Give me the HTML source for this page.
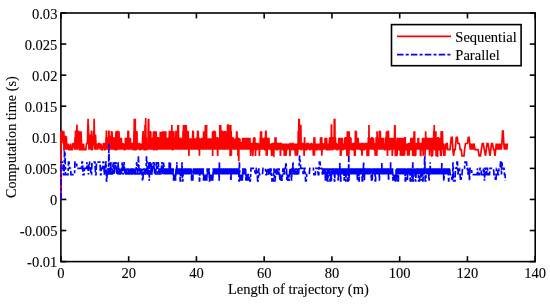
<!DOCTYPE html>
<html><head><meta charset="utf-8"><style>html,body{margin:0;padding:0;background:#fff;width:550px;height:305px;overflow:hidden}svg{display:block}</style></head>
<body><div id="w"><svg width="550" height="305" viewBox="0 0 550 305">
<rect width="550" height="305" fill="#fff"/>
<rect x="60.9" y="13.0" width="474.30" height="248.60" fill="none" stroke="#000" stroke-width="1.6"/><line x1="60.90" y1="261.6" x2="60.90" y2="256.20000000000005" stroke="#000" stroke-width="1.6"/><line x1="60.90" y1="13.0" x2="60.90" y2="18.4" stroke="#000" stroke-width="1.6"/><line x1="128.66" y1="261.6" x2="128.66" y2="256.20000000000005" stroke="#000" stroke-width="1.6"/><line x1="128.66" y1="13.0" x2="128.66" y2="18.4" stroke="#000" stroke-width="1.6"/><line x1="196.41" y1="261.6" x2="196.41" y2="256.20000000000005" stroke="#000" stroke-width="1.6"/><line x1="196.41" y1="13.0" x2="196.41" y2="18.4" stroke="#000" stroke-width="1.6"/><line x1="264.17" y1="261.6" x2="264.17" y2="256.20000000000005" stroke="#000" stroke-width="1.6"/><line x1="264.17" y1="13.0" x2="264.17" y2="18.4" stroke="#000" stroke-width="1.6"/><line x1="331.93" y1="261.6" x2="331.93" y2="256.20000000000005" stroke="#000" stroke-width="1.6"/><line x1="331.93" y1="13.0" x2="331.93" y2="18.4" stroke="#000" stroke-width="1.6"/><line x1="399.69" y1="261.6" x2="399.69" y2="256.20000000000005" stroke="#000" stroke-width="1.6"/><line x1="399.69" y1="13.0" x2="399.69" y2="18.4" stroke="#000" stroke-width="1.6"/><line x1="467.44" y1="261.6" x2="467.44" y2="256.20000000000005" stroke="#000" stroke-width="1.6"/><line x1="467.44" y1="13.0" x2="467.44" y2="18.4" stroke="#000" stroke-width="1.6"/><line x1="535.20" y1="261.6" x2="535.20" y2="256.20000000000005" stroke="#000" stroke-width="1.6"/><line x1="535.20" y1="13.0" x2="535.20" y2="18.4" stroke="#000" stroke-width="1.6"/><line x1="60.9" y1="13.00" x2="66.3" y2="13.00" stroke="#000" stroke-width="1.6"/><line x1="535.2" y1="13.00" x2="529.8000000000001" y2="13.00" stroke="#000" stroke-width="1.6"/><line x1="60.9" y1="44.07" x2="66.3" y2="44.07" stroke="#000" stroke-width="1.6"/><line x1="535.2" y1="44.07" x2="529.8000000000001" y2="44.07" stroke="#000" stroke-width="1.6"/><line x1="60.9" y1="75.15" x2="66.3" y2="75.15" stroke="#000" stroke-width="1.6"/><line x1="535.2" y1="75.15" x2="529.8000000000001" y2="75.15" stroke="#000" stroke-width="1.6"/><line x1="60.9" y1="106.23" x2="66.3" y2="106.23" stroke="#000" stroke-width="1.6"/><line x1="535.2" y1="106.23" x2="529.8000000000001" y2="106.23" stroke="#000" stroke-width="1.6"/><line x1="60.9" y1="137.30" x2="66.3" y2="137.30" stroke="#000" stroke-width="1.6"/><line x1="535.2" y1="137.30" x2="529.8000000000001" y2="137.30" stroke="#000" stroke-width="1.6"/><line x1="60.9" y1="168.38" x2="66.3" y2="168.38" stroke="#000" stroke-width="1.6"/><line x1="535.2" y1="168.38" x2="529.8000000000001" y2="168.38" stroke="#000" stroke-width="1.6"/><line x1="60.9" y1="199.45" x2="66.3" y2="199.45" stroke="#000" stroke-width="1.6"/><line x1="535.2" y1="199.45" x2="529.8000000000001" y2="199.45" stroke="#000" stroke-width="1.6"/><line x1="60.9" y1="230.53" x2="66.3" y2="230.53" stroke="#000" stroke-width="1.6"/><line x1="535.2" y1="230.53" x2="529.8000000000001" y2="230.53" stroke="#000" stroke-width="1.6"/><line x1="60.9" y1="261.60" x2="66.3" y2="261.60" stroke="#000" stroke-width="1.6"/><line x1="535.2" y1="261.60" x2="529.8000000000001" y2="261.60" stroke="#000" stroke-width="1.6"/>
<path d="M60.90 199.45 L60.90 131.20 L61.35 143.51 L61.77 131.25 L62.60 131.25 L62.61 131.25 L63.37 143.51 L63.85 131.25 L63.95 149.73 L64.20 149.73 L64.99 136.35 L65.15 136.35 L65.76 149.73 L66.35 136.35 L66.60 143.51 L67.36 149.73 L68.19 143.51 L68.97 149.73 L69.77 149.73 L70.59 143.51 L71.43 149.73 L72.17 149.73 L72.98 143.51 L73.81 143.51 L74.64 149.73 L75.05 137.30 L75.41 149.73 L75.50 130.55 L75.95 143.51 L76.19 149.73 L76.55 137.30 L77.00 124.65 L77.04 143.51 L77.45 149.73 L77.76 143.51 L78.05 131.25 L78.40 131.25 L78.63 143.51 L78.75 131.25 L79.38 149.73 L80.05 149.73 L80.17 137.30 L80.50 131.25 L80.95 143.51 L80.97 131.25 L81.78 149.73 L82.63 149.73 L83.37 143.51 L84.21 149.73 L85.01 149.73 L85.79 149.73 L86.60 143.51 L87.37 143.51 L87.75 131.09 L88.10 118.85 L88.16 143.51 L88.45 124.87 L88.98 149.73 L89.55 134.55 L89.81 149.73 L90.25 134.55 L90.59 143.51 L90.95 134.55 L91.25 149.73 L91.39 131.25 L91.60 131.25 L91.95 149.73 L92.21 149.73 L93.00 143.51 L93.75 131.09 L93.78 143.51 L94.15 118.85 L94.55 143.51 L94.62 149.73 L95.05 134.55 L95.42 143.51 L95.50 134.55 L95.95 143.51 L96.18 149.73 L97.01 143.51 L97.80 149.73 L98.63 143.51 L99.42 143.51 L100.18 149.73 L101.04 143.51 L101.77 149.73 L102.59 149.73 L103.42 143.51 L103.99 143.51 L104.30 143.51 L104.59 149.73 L104.91 149.73 L105.21 143.51 L105.50 143.51 L105.81 149.73 L106.05 137.30 L106.09 149.73 L106.41 131.25 L106.50 131.25 L106.70 143.51 L106.95 137.30 L107.00 143.51 L107.30 149.73 L107.61 143.51 L107.91 143.51 L108.20 149.73 L108.35 137.30 L108.50 149.73 L108.79 131.25 L109.05 131.25 L109.11 143.51 L109.40 143.51 L109.71 149.73 L109.75 137.30 L110.01 143.51 L110.05 135.85 L110.29 149.73 L110.50 135.85 L110.60 149.73 L110.91 135.85 L110.95 143.51 L111.05 137.30 L111.19 149.73 L111.50 131.85 L111.65 131.85 L111.79 143.51 L112.09 131.85 L112.25 143.51 L112.35 137.85 L112.39 149.73 L112.71 137.85 L112.99 143.51 L113.29 149.73 L113.60 137.85 L113.65 137.85 L113.91 149.73 L114.19 137.85 L114.50 143.51 L114.80 137.85 L114.95 143.51 L115.11 149.73 L115.41 149.73 L115.65 137.30 L115.71 143.51 L115.99 131.25 L116.30 149.73 L116.60 149.73 L116.91 131.25 L117.21 143.51 L117.49 131.25 L117.55 131.25 L117.79 149.73 L118.09 131.25 L118.39 143.51 L118.70 149.73 L119.00 131.25 L119.29 143.51 L119.45 137.30 L119.55 149.73 L119.59 137.85 L119.90 143.51 L120.20 149.73 L120.50 137.85 L120.81 143.51 L121.11 149.73 L121.40 137.85 L121.45 143.51 L121.70 149.73 L122.01 143.51 L122.29 149.73 L122.61 143.51 L122.91 143.51 L123.21 149.73 L123.51 143.51 L123.80 149.73 L124.10 143.51 L124.39 149.73 L124.70 149.73 L124.99 143.51 L125.29 149.73 L125.45 137.85 L125.59 143.51 L125.89 149.73 L126.05 137.85 L126.20 143.51 L126.49 149.73 L126.65 137.85 L126.79 143.51 L127.09 149.73 L127.39 143.51 L127.45 137.30 L127.70 143.51 L127.99 131.25 L128.05 131.25 L128.31 149.73 L128.60 131.25 L128.65 143.51 L128.89 143.51 L129.19 149.73 L129.45 137.85 L129.50 149.73 L129.80 143.51 L130.05 137.85 L130.09 149.73 L130.41 137.85 L130.65 149.73 L130.71 143.51 L131.00 149.73 L131.30 143.51 L131.59 143.51 L131.89 149.73 L132.20 143.51 L132.49 143.51 L132.81 149.73 L133.09 143.51 L133.39 149.73 L133.71 149.73 L134.00 131.09 L134.05 143.51 L134.29 118.85 L134.60 149.73 L134.65 118.85 L134.89 149.73 L135.20 143.51 L135.25 118.85 L135.51 149.73 L135.81 149.73 L136.05 131.85 L136.11 143.51 L136.39 131.85 L136.60 131.85 L136.70 143.51 L136.99 131.85 L137.15 149.73 L137.31 143.51 L137.60 149.73 L137.91 143.51 L138.19 149.73 L138.49 143.51 L138.81 149.73 L139.11 143.51 L139.41 143.51 L139.71 149.73 L140.01 143.51 L140.31 149.73 L140.59 149.73 L140.90 143.51 L141.20 149.73 L141.49 143.51 L141.79 149.73 L142.09 143.51 L142.39 149.73 L142.55 137.30 L142.71 143.51 L143.01 131.85 L143.15 131.85 L143.30 143.51 L143.61 137.30 L143.75 149.73 L143.91 143.51 L144.21 149.73 L144.50 149.73 L144.79 143.51 L145.05 124.87 L145.09 143.51 L145.39 149.73 L145.69 118.85 L145.70 118.85 L146.00 143.51 L146.31 137.30 L146.35 149.73 L146.61 149.73 L146.90 143.51 L147.20 149.73 L147.51 143.51 L147.75 149.73 L147.79 143.51 L148.10 143.51 L148.35 118.85 L148.41 149.73 L148.71 118.85 L148.95 149.73 L149.01 143.51 L149.30 143.51 L149.59 149.73 L149.75 131.85 L149.91 143.51 L150.19 131.85 L150.35 131.85 L150.51 149.73 L150.81 131.85 L150.95 143.51 L151.10 143.51 L151.40 149.73 L151.71 137.85 L151.75 143.51 L152.01 137.85 L152.29 149.73 L152.35 137.85 L152.59 143.51 L152.89 137.85 L152.95 149.73 L153.05 137.30 L153.21 143.51 L153.51 131.25 L153.79 149.73 L154.11 149.73 L154.41 131.25 L154.70 143.51 L155.00 131.25 L155.30 149.73 L155.59 131.25 L155.89 143.51 L156.21 131.25 L156.50 149.73 L156.80 149.73 L156.95 143.51 L157.05 137.85 L157.11 143.51 L157.40 137.85 L157.71 149.73 L158.01 137.85 L158.29 137.85 L158.30 137.85 L158.59 143.51 L158.89 137.85 L159.19 143.51 L159.50 149.73 L159.55 137.85 L159.79 143.51 L160.10 149.73 L160.25 131.85 L160.39 143.51 L160.71 131.85 L161.00 143.51 L161.20 131.85 L161.30 149.73 L161.60 131.85 L161.91 143.51 L162.15 137.30 L162.20 149.73 L162.25 137.30 L162.51 143.51 L162.80 131.25 L163.10 149.73 L163.40 131.25 L163.69 149.73 L164.00 143.51 L164.10 131.25 L164.29 149.73 L164.59 131.25 L164.91 143.51 L165.19 137.30 L165.50 143.51 L165.81 131.25 L165.95 149.73 L166.05 137.85 L166.10 143.51 L166.39 137.85 L166.70 149.73 L167.00 137.85 L167.31 143.51 L167.59 137.85 L167.90 149.73 L167.95 137.85 L168.19 143.51 L168.49 149.73 L168.65 137.30 L168.81 143.51 L169.10 143.51 L169.40 131.25 L169.60 131.25 L169.71 149.73 L170.01 131.25 L170.30 149.73 L170.55 137.30 L170.60 143.51 L170.90 143.51 L171.20 137.30 L171.25 149.73 L171.51 131.09 L171.80 143.51 L171.85 125.05 L172.10 149.73 L172.40 143.51 L172.45 131.09 L172.55 149.73 L172.71 149.73 L173.01 131.25 L173.31 143.51 L173.50 131.25 L173.61 143.51 L173.89 131.25 L174.20 149.73 L174.45 143.51 L174.51 149.73 L174.81 143.51 L175.05 137.30 L175.09 149.73 L175.39 137.30 L175.70 143.51 L175.99 131.25 L176.00 131.25 L176.29 143.51 L176.59 131.25 L176.91 149.73 L176.95 143.51 L177.21 149.73 L177.51 143.51 L177.79 143.51 L177.85 125.05 L178.11 149.73 L178.40 125.05 L178.69 143.51 L178.95 149.73 L179.01 138.35 L179.05 143.51 L179.31 138.35 L179.59 149.73 L179.91 138.35 L180.20 143.51 L180.50 138.35 L180.70 138.35 L180.81 143.51 L181.11 149.73 L181.39 138.35 L181.70 143.51 L182.00 143.51 L182.30 138.35 L182.35 149.73 L182.59 143.51 L182.89 149.73 L183.05 131.09 L183.21 143.51 L183.49 125.05 L183.80 143.51 L184.10 125.05 L184.39 149.73 L184.65 125.05 L184.69 143.51 L185.00 143.51 L185.30 149.73 L185.59 125.05 L185.91 143.51 L186.21 125.05 L186.25 149.73 L186.35 143.51 L186.51 131.25 L186.79 149.73 L187.09 131.25 L187.30 131.25 L187.39 143.51 L187.71 131.25 L187.99 143.51 L188.25 131.25 L188.29 149.73 L188.35 138.35 L188.60 143.51 L188.91 155.86 L189.21 138.35 L189.49 149.73 L189.65 138.35 L189.79 143.51 L190.11 138.35 L190.40 149.73 L190.71 143.51 L190.95 149.73 L190.99 138.35 L191.29 143.51 L191.61 143.51 L191.90 149.73 L192.19 143.51 L192.25 149.73 L192.51 143.51 L192.80 131.25 L192.85 131.25 L193.11 149.73 L193.39 131.25 L193.45 143.51 L193.71 149.73 L193.99 143.51 L194.25 138.35 L194.31 149.73 L194.60 138.35 L194.90 149.73 L195.20 138.35 L195.51 143.51 L195.79 143.51 L196.09 138.35 L196.15 149.73 L196.40 143.51 L196.69 149.73 L196.85 143.51 L196.99 137.30 L197.29 143.51 L197.59 131.25 L197.80 131.25 L197.89 149.73 L198.19 131.25 L198.49 143.51 L198.75 137.30 L198.81 149.73 L199.09 149.73 L199.40 138.35 L199.45 155.78 L199.69 138.35 L200.00 143.51 L200.10 138.35 L200.29 149.73 L200.59 138.35 L200.75 143.51 L200.89 143.51 L201.21 149.73 L201.45 143.51 L201.50 149.73 L201.79 143.51 L202.05 137.85 L202.10 149.73 L202.41 143.51 L202.65 137.85 L202.69 149.73 L203.01 143.51 L203.30 149.73 L203.45 143.51 L203.60 131.25 L203.91 149.73 L204.05 131.25 L204.20 143.51 L204.50 143.51 L204.65 131.25 L204.81 149.73 L205.11 143.51 L205.35 125.05 L205.40 143.51 L205.71 131.09 L205.95 125.05 L206.01 149.73 L206.30 131.09 L206.55 143.51 L206.60 125.05 L206.65 149.73 L206.90 138.35 L207.19 143.51 L207.49 138.35 L207.79 149.73 L208.11 138.35 L208.39 143.51 L208.69 149.73 L208.90 138.35 L208.99 149.73 L209.31 143.51 L209.61 138.35 L209.91 149.73 L210.19 138.35 L210.49 143.51 L210.79 138.35 L211.10 149.73 L211.15 138.35 L211.39 143.51 L211.70 149.73 L211.99 143.51 L212.31 149.73 L212.61 131.25 L212.65 156.04 L212.90 131.25 L213.19 149.73 L213.51 143.51 L213.79 143.51 L214.10 131.25 L214.20 131.25 L214.39 149.73 L214.70 131.25 L215.00 143.51 L215.30 131.25 L215.59 149.73 L215.75 137.30 L215.85 143.51 L215.90 137.85 L216.19 149.73 L216.49 143.51 L216.79 137.85 L217.10 143.51 L217.39 137.85 L217.40 137.85 L217.69 156.07 L217.99 143.51 L218.29 137.85 L218.60 149.73 L218.90 137.85 L218.95 143.51 L219.21 149.73 L219.50 143.51 L219.65 149.73 L219.81 125.05 L220.11 143.51 L220.30 125.05 L220.40 143.51 L220.69 125.05 L220.95 149.73 L221.01 137.30 L221.05 149.73 L221.29 137.30 L221.61 143.51 L221.90 149.73 L222.19 131.25 L222.30 131.25 L222.51 143.51 L222.81 131.25 L223.10 149.73 L223.41 131.25 L223.55 149.73 L223.71 143.51 L223.99 149.73 L224.25 137.30 L224.30 143.51 L224.60 131.85 L224.85 131.85 L224.91 149.73 L225.21 131.85 L225.45 143.51 L225.51 131.25 L225.55 143.51 L225.80 131.25 L226.11 149.73 L226.15 131.25 L226.41 149.73 L226.71 143.51 L226.75 149.73 L226.99 143.51 L227.29 149.73 L227.55 125.05 L227.59 143.51 L227.90 125.05 L228.15 125.05 L228.19 149.73 L228.51 125.05 L228.75 149.73 L228.80 137.30 L228.85 143.51 L229.10 137.85 L229.40 143.51 L229.45 137.85 L229.71 149.73 L230.00 143.51 L230.05 137.85 L230.15 156.18 L230.29 125.05 L230.61 143.51 L230.75 125.05 L230.91 149.73 L231.20 131.09 L231.35 155.65 L231.45 143.51 L231.50 149.73 L231.80 137.85 L232.09 143.51 L232.41 137.85 L232.50 137.85 L232.69 143.51 L232.99 137.85 L233.29 149.73 L233.55 137.85 L233.61 143.51 L233.65 139.85 L233.89 149.73 L234.21 139.85 L234.50 139.85 L234.51 139.85 L234.80 143.51 L235.10 139.85 L235.35 149.73 L235.40 139.85 L235.71 143.51 L236.01 149.73 L236.05 137.30 L236.30 149.73 L236.60 131.25 L236.89 143.51 L237.00 131.25 L237.19 149.73 L237.49 143.51 L237.81 137.30 L237.95 156.15 L238.05 143.51 L238.09 138.85 L238.40 155.65 L238.69 138.85 L238.80 161.15 L238.99 138.85 L239.00 138.85 L239.29 143.51 L239.61 138.85 L239.91 143.51 L239.95 138.85 L240.05 149.73 L240.21 141.85 L240.49 149.73 L240.80 141.85 L241.10 143.51 L241.30 141.85 L241.40 149.73 L241.69 141.85 L242.01 143.51 L242.29 141.85 L242.55 149.73 L242.61 137.85 L242.65 143.51 L242.91 137.85 L243.19 149.73 L243.30 137.85 L243.50 149.73 L243.81 137.85 L243.95 143.51 L244.11 149.73 L244.40 143.51 L244.69 149.73 L244.99 143.51 L245.05 137.85 L245.31 149.73 L245.59 137.85 L245.90 143.51 L246.10 137.85 L246.19 149.73 L246.50 137.85 L246.81 149.73 L247.09 143.51 L247.15 137.85 L247.41 143.51 L247.70 149.73 L247.85 137.85 L248.01 143.51 L248.31 137.85 L248.59 149.73 L248.80 137.85 L248.91 143.51 L249.20 149.73 L249.49 143.51 L249.75 149.73 L249.79 137.85 L250.10 143.51 L250.40 143.51 L250.69 156.01 L250.99 149.73 L251.30 143.51 L251.59 143.51 L251.91 149.73 L252.19 143.51 L252.51 143.51 L252.81 156.24 L253.09 149.73 L253.41 143.51 L253.71 137.85 L253.75 149.73 L254.01 143.51 L254.29 137.85 L254.35 137.85 L254.60 143.51 L254.90 137.85 L254.95 149.73 L255.21 143.51 L255.50 156.02 L255.80 143.51 L256.10 143.51 L256.39 149.73 L256.69 149.73 L256.99 143.51 L257.31 149.73 L257.59 143.51 L257.91 143.51 L258.19 149.73 L258.49 143.51 L258.80 149.73 L259.09 143.51 L259.40 155.99 L259.71 143.51 L260.01 149.73 L260.31 137.30 L260.35 143.51 L260.60 131.25 L260.91 143.51 L260.95 131.25 L261.21 149.73 L261.50 131.25 L261.55 143.51 L261.81 149.73 L262.09 143.51 L262.35 149.73 L262.41 143.51 L262.70 137.85 L263.01 143.51 L263.25 137.85 L263.30 149.73 L263.59 137.85 L263.89 149.73 L264.15 143.51 L264.21 149.73 L264.49 143.51 L264.80 149.73 L265.05 149.73 L265.10 137.30 L265.39 143.51 L265.71 131.25 L266.00 131.25 L266.01 131.25 L266.29 155.76 L266.60 137.30 L266.89 143.51 L266.95 149.73 L267.05 149.73 L267.20 155.74 L267.50 137.85 L267.79 143.51 L268.00 137.85 L268.09 149.73 L268.39 137.85 L268.71 149.73 L268.95 137.85 L269.00 143.51 L269.29 149.73 L269.61 143.51 L269.91 149.73 L270.20 143.51 L270.49 149.73 L270.79 143.51 L271.09 149.73 L271.40 149.73 L271.69 155.89 L271.99 149.73 L272.29 143.51 L272.60 143.51 L272.91 149.73 L273.21 149.73 L273.50 155.84 L273.80 156.01 L274.10 143.51 L274.40 143.51 L274.70 149.73 L274.99 143.51 L275.05 137.15 L275.29 149.73 L275.50 137.15 L275.61 143.51 L275.89 143.51 L275.95 137.15 L276.20 149.73 L276.50 149.73 L276.81 143.51 L277.09 149.73 L277.39 149.73 L277.69 143.51 L278.00 143.51 L278.30 149.73 L278.61 143.51 L278.91 149.73 L279.21 143.51 L279.49 143.51 L279.79 149.73 L280.11 143.51 L280.41 155.95 L280.70 149.73 L281.00 143.51 L281.29 143.51 L281.60 149.73 L281.91 143.51 L282.21 149.73 L282.51 143.51 L282.81 149.73 L283.09 149.73 L283.39 143.51 L283.69 149.73 L284.00 143.51 L284.31 156.03 L284.61 143.51 L284.91 155.98 L285.20 143.51 L285.51 149.73 L285.80 149.73 L286.10 155.66 L286.39 149.73 L286.71 149.73 L286.99 143.51 L287.31 149.73 L287.60 143.51 L287.89 149.73 L288.19 143.51 L288.49 149.73 L288.80 143.51 L289.11 149.73 L289.39 143.51 L289.69 149.73 L290.00 156.11 L290.30 143.51 L290.60 143.51 L290.89 149.73 L291.20 149.73 L291.49 143.51 L291.79 149.73 L292.10 143.51 L292.41 149.73 L292.70 143.51 L293.01 143.51 L293.30 149.73 L293.59 149.73 L293.89 143.51 L294.21 149.73 L294.51 149.73 L294.79 143.51 L295.09 149.73 L295.40 155.73 L295.71 143.51 L296.00 149.73 L296.29 149.73 L296.61 143.51 L296.91 155.71 L297.19 143.51 L297.49 155.78 L297.80 149.73 L298.10 143.51 L298.25 131.09 L298.41 143.51 L298.69 149.73 L298.85 118.85 L299.01 143.51 L299.31 118.85 L299.45 149.73 L299.60 143.51 L299.89 149.73 L300.21 137.30 L300.25 149.73 L300.49 143.51 L300.81 149.73 L300.85 124.65 L301.09 143.51 L301.39 149.73 L301.45 149.73 L301.71 143.51 L301.99 149.73 L302.31 143.51 L302.60 143.51 L302.89 149.73 L303.19 143.51 L303.50 149.73 L303.80 143.51 L303.95 149.73 L304.11 156.09 L304.39 143.51 L304.65 137.15 L304.70 143.51 L304.99 149.73 L305.31 149.73 L305.35 143.51 L305.59 149.73 L305.89 143.51 L306.19 149.73 L306.50 149.73 L306.81 143.51 L307.11 143.51 L307.41 149.73 L307.71 143.51 L308.01 143.51 L308.29 149.73 L308.59 143.51 L308.91 149.73 L309.21 143.51 L309.49 149.73 L309.80 143.51 L310.10 149.73 L310.40 149.73 L310.69 143.51 L310.99 149.73 L311.29 143.51 L311.59 143.51 L311.90 149.73 L312.21 143.51 L312.49 149.73 L312.81 143.51 L313.09 149.73 L313.40 155.72 L313.71 149.73 L314.01 137.15 L314.05 149.73 L314.30 155.80 L314.59 149.73 L314.65 137.15 L314.90 143.51 L315.20 149.73 L315.25 149.73 L315.51 143.51 L315.79 149.73 L316.10 143.51 L316.41 149.73 L316.69 149.73 L317.00 143.51 L317.31 149.73 L317.61 149.73 L317.89 143.51 L318.19 149.73 L318.49 143.51 L318.81 149.73 L319.09 143.51 L319.41 149.73 L319.71 143.51 L320.00 149.73 L320.29 149.73 L320.55 137.15 L320.61 143.51 L320.90 149.73 L321.19 149.73 L321.51 143.51 L321.75 137.15 L321.79 155.78 L322.09 149.73 L322.39 143.51 L322.71 143.51 L322.95 149.73 L323.01 143.51 L323.30 149.73 L323.61 143.51 L323.89 149.73 L324.19 143.51 L324.35 149.73 L324.50 143.51 L324.81 149.73 L325.11 137.85 L325.40 143.51 L325.69 149.73 L325.95 137.85 L326.00 143.51 L326.30 143.51 L326.61 137.85 L326.89 149.73 L327.21 149.73 L327.51 143.51 L327.55 149.73 L327.81 143.51 L328.11 149.73 L328.40 143.51 L328.69 149.73 L328.99 149.73 L329.30 143.51 L329.61 137.85 L329.65 149.73 L329.89 149.73 L330.19 137.85 L330.25 137.85 L330.51 143.51 L330.79 143.51 L330.85 149.73 L330.95 143.51 L331.09 149.73 L331.39 125.05 L331.55 125.05 L331.70 143.51 L331.99 143.51 L332.15 149.73 L332.25 149.73 L332.31 143.51 L332.61 137.85 L332.85 137.85 L332.91 143.51 L333.19 149.73 L333.45 137.85 L333.49 143.51 L333.79 143.51 L334.10 149.73 L334.25 118.85 L334.41 143.51 L334.70 149.73 L334.85 118.85 L334.99 143.51 L335.30 149.73 L335.45 137.30 L335.60 149.73 L335.91 143.51 L336.21 143.51 L336.51 149.73 L336.80 143.51 L337.09 149.73 L337.41 149.73 L337.69 143.51 L338.00 149.73 L338.05 143.51 L338.30 149.73 L338.61 143.51 L338.89 137.85 L339.19 143.51 L339.49 149.73 L339.79 137.85 L340.11 143.51 L340.35 137.85 L340.40 155.98 L340.69 149.73 L341.00 155.67 L341.31 137.85 L341.60 149.73 L341.89 149.73 L342.21 137.85 L342.50 143.51 L342.65 149.73 L342.81 149.73 L343.09 143.51 L343.40 149.73 L343.71 143.51 L344.01 149.73 L344.31 143.51 L344.59 149.73 L344.75 137.85 L344.89 143.51 L345.19 149.73 L345.49 137.85 L345.65 137.85 L345.81 143.51 L346.10 149.73 L346.41 143.51 L346.55 137.85 L346.70 149.73 L347.01 155.99 L347.30 149.73 L347.35 131.25 L347.59 143.51 L347.91 149.73 L348.21 143.51 L348.25 131.25 L348.49 156.21 L348.80 156.12 L349.10 149.73 L349.15 131.25 L349.25 143.51 L349.39 149.73 L349.70 143.51 L349.99 137.85 L350.20 137.85 L350.29 149.73 L350.59 143.51 L350.90 137.85 L351.15 149.73 L351.20 143.51 L351.49 149.73 L351.79 149.73 L352.09 143.51 L352.41 149.73 L352.69 149.73 L352.99 143.51 L353.29 143.51 L353.61 149.73 L353.90 143.51 L354.19 143.51 L354.49 156.11 L354.55 143.51 L354.80 149.73 L355.10 156.04 L355.40 131.25 L355.50 131.25 L355.69 143.51 L355.99 143.51 L356.31 131.25 L356.45 149.73 L356.55 143.51 L356.60 149.73 L356.89 143.51 L357.19 149.73 L357.45 137.85 L357.51 143.51 L357.79 149.73 L358.10 137.85 L358.35 143.51 L358.40 149.73 L358.70 143.51 L359.01 143.51 L359.31 149.73 L359.60 143.51 L359.89 149.73 L360.21 143.51 L360.49 149.73 L360.79 149.73 L361.11 143.51 L361.40 143.51 L361.71 149.73 L362.00 155.75 L362.31 149.73 L362.60 143.51 L362.89 143.51 L363.19 149.73 L363.50 143.51 L363.80 143.51 L364.11 149.73 L364.39 149.73 L364.70 143.51 L365.00 149.73 L365.30 143.51 L365.59 149.73 L365.89 143.51 L366.20 143.51 L366.51 149.73 L366.79 143.51 L367.10 156.15 L367.41 143.51 L367.71 143.51 L367.99 149.73 L368.29 143.51 L368.35 137.30 L368.61 156.21 L368.91 143.51 L368.95 125.05 L369.20 149.73 L369.49 143.51 L369.55 143.51 L369.65 137.85 L369.81 149.73 L370.10 143.51 L370.41 137.85 L370.70 149.73 L371.01 143.51 L371.29 137.85 L371.61 149.73 L371.89 137.85 L371.90 137.85 L372.20 143.51 L372.51 149.73 L372.81 143.51 L373.09 149.73 L373.39 137.85 L373.70 143.51 L374.00 149.73 L374.15 143.51 L374.30 149.73 L374.59 149.73 L374.89 143.51 L375.21 155.81 L375.51 143.51 L375.79 143.51 L376.10 149.73 L376.15 137.30 L376.41 143.51 L376.69 155.96 L377.01 149.73 L377.05 131.25 L377.29 143.51 L377.60 149.73 L377.90 143.51 L377.95 149.73 L378.20 143.51 L378.49 143.51 L378.65 137.30 L378.80 149.73 L379.10 143.51 L379.40 131.25 L379.60 131.25 L379.70 149.73 L380.00 143.51 L380.30 131.25 L380.55 143.51 L380.59 149.73 L380.65 143.51 L380.90 149.73 L381.20 143.51 L381.49 137.85 L381.81 143.51 L382.11 149.73 L382.25 137.85 L382.40 149.73 L382.69 143.51 L383.00 143.51 L383.29 149.73 L383.59 137.85 L383.85 143.51 L383.90 143.51 L384.19 149.73 L384.50 143.51 L384.80 149.73 L385.09 149.73 L385.40 143.51 L385.69 149.73 L385.85 137.30 L386.01 149.73 L386.31 143.51 L386.50 131.25 L386.60 149.73 L386.89 143.51 L387.15 137.30 L387.20 149.73 L387.50 155.95 L387.81 131.25 L387.85 149.73 L388.09 143.51 L388.41 131.25 L388.45 131.25 L388.71 143.51 L389.01 149.73 L389.05 143.51 L389.15 137.85 L389.31 149.73 L389.59 149.73 L389.91 143.51 L390.20 137.85 L390.51 149.73 L390.81 143.51 L391.09 137.85 L391.41 143.51 L391.71 149.73 L391.75 137.85 L391.99 143.51 L392.30 155.86 L392.61 149.73 L392.89 143.51 L393.21 137.85 L393.49 149.73 L393.81 143.51 L394.09 137.85 L394.35 143.51 L394.40 149.73 L394.45 143.51 L394.71 125.05 L394.99 149.73 L395.05 125.05 L395.29 156.19 L395.60 143.51 L395.65 137.30 L395.75 143.51 L395.89 149.73 L396.19 156.14 L396.49 149.73 L396.79 143.51 L397.11 155.77 L397.41 143.51 L397.71 137.85 L397.99 149.73 L398.31 143.51 L398.35 137.85 L398.59 143.51 L398.90 149.73 L399.20 149.73 L399.50 143.51 L399.81 143.51 L400.10 137.85 L400.40 155.79 L400.71 149.73 L400.95 143.51 L400.99 137.85 L401.31 149.73 L401.60 155.67 L401.65 149.73 L401.90 143.51 L402.21 137.85 L402.49 156.10 L402.60 137.85 L402.81 149.73 L403.10 143.51 L403.40 137.85 L403.55 149.73 L403.71 143.51 L404.00 155.66 L404.25 137.85 L404.29 143.51 L404.61 155.68 L404.89 137.85 L405.20 137.85 L405.21 137.85 L405.49 149.73 L405.80 149.73 L406.11 143.51 L406.15 149.73 L406.40 149.73 L406.70 143.51 L406.99 149.73 L407.29 143.51 L407.59 155.81 L407.89 143.51 L408.20 149.73 L408.50 143.51 L408.80 143.51 L409.11 155.67 L409.39 143.51 L409.69 143.51 L410.00 149.73 L410.29 149.73 L410.59 143.51 L410.85 143.51 L410.90 137.85 L411.19 149.73 L411.50 143.51 L411.75 137.85 L411.79 149.73 L412.10 149.73 L412.40 137.85 L412.65 143.51 L412.69 155.91 L413.00 149.73 L413.30 143.51 L413.45 143.51 L413.59 137.30 L413.91 155.97 L414.05 131.25 L414.19 143.51 L414.49 156.11 L414.65 131.25 L414.79 143.51 L415.10 156.16 L415.41 143.51 L415.71 155.72 L416.00 143.51 L416.29 149.73 L416.59 143.51 L416.90 143.51 L417.20 149.73 L417.50 143.51 L417.80 149.73 L418.05 137.85 L418.10 143.51 L418.41 143.51 L418.65 137.85 L418.71 149.73 L418.99 143.51 L419.25 149.73 L419.31 143.51 L419.59 143.51 L419.90 149.73 L420.20 143.51 L420.49 156.08 L420.79 155.69 L421.11 143.51 L421.39 143.51 L421.70 149.73 L421.95 143.51 L422.01 149.73 L422.29 149.73 L422.59 137.85 L422.90 143.51 L423.20 155.77 L423.25 137.85 L423.50 143.51 L423.81 149.73 L424.09 137.85 L424.39 143.51 L424.55 143.51 L424.69 149.73 L424.99 143.51 L425.05 155.82 L425.31 143.51 L425.61 149.73 L425.65 131.25 L425.91 143.51 L426.19 149.73 L426.25 137.30 L426.51 143.51 L426.55 149.73 L426.81 137.85 L427.10 143.51 L427.41 149.73 L427.70 137.85 L427.99 149.73 L428.29 143.51 L428.59 143.51 L428.89 149.73 L429.20 137.85 L429.51 155.86 L429.75 137.85 L429.81 143.51 L430.11 149.73 L430.41 137.85 L430.69 143.51 L431.00 149.73 L431.30 149.73 L431.61 155.93 L431.90 155.92 L432.19 137.85 L432.50 156.07 L432.81 149.73 L432.95 143.51 L433.09 143.51 L433.41 149.73 L433.65 143.51 L433.69 131.09 L433.99 143.51 L434.25 125.05 L434.29 149.73 L434.61 143.51 L434.85 143.51 L434.91 131.25 L434.95 149.73 L435.21 149.73 L435.49 131.25 L435.81 143.51 L435.90 131.25 L436.09 156.21 L436.39 143.51 L436.71 149.73 L436.85 143.51 L436.95 137.85 L437.00 155.75 L437.31 155.87 L437.60 156.01 L437.91 137.85 L438.20 137.85 L438.51 149.73 L438.81 149.73 L439.11 143.51 L439.40 137.85 L439.45 149.73 L439.71 143.51 L440.00 149.73 L440.25 149.73 L440.29 143.51 L440.59 155.91 L440.90 149.73 L441.15 131.25 L441.19 156.10 L441.51 149.73 L441.79 143.51 L442.05 137.30 L442.09 143.51 L442.40 131.00 L442.90 149.70 L443.30 143.50 L443.80 155.90 L444.30 149.70 L444.80 155.90 L445.30 143.50 L445.80 149.70 L446.60 143.50 L447.20 143.50 L447.70 149.70 L448.50 149.70 L449.30 149.70 L450.00 149.70 L451.30 137.30 L452.20 137.30 L452.80 149.70 L453.60 155.90 L454.30 149.70 L455.20 149.70 L456.30 137.30 L457.30 137.30 L457.90 143.50 L458.60 143.50 L459.30 143.50 L460.20 149.70 L461.30 149.70 L462.00 155.90 L463.00 155.90 L464.00 155.90 L464.60 149.70 L465.50 143.50 L466.50 143.50 L467.50 143.50 L468.30 137.30 L469.00 137.30 L469.70 143.50 L470.30 149.70 L470.90 143.50 L471.60 149.70 L472.30 143.50 L473.20 149.70 L474.00 143.50 L475.00 149.70 L476.00 149.70 L477.00 149.70 L478.00 149.70 L479.20 155.90 L480.50 155.90 L481.30 149.70 L482.30 143.50 L483.30 143.50 L484.30 149.70 L485.50 155.90 L486.30 149.70 L487.00 143.50 L488.00 143.50 L489.00 149.70 L490.00 155.90 L490.80 149.70 L491.50 143.50 L492.50 143.50 L493.50 149.70 L494.20 149.70 L495.00 155.90 L495.70 149.70 L496.30 143.50 L497.00 149.70 L497.70 143.50 L498.40 149.70 L499.00 143.50 L499.80 149.70 L500.50 143.50 L501.20 149.70 L501.90 143.50 L502.50 131.00 L503.20 131.00 L503.80 143.50 L504.40 149.70 L505.00 143.50 L505.60 149.70 L506.20 143.50 L506.80 149.70 L507.40 143.50" fill="none" stroke="#f00" stroke-width="1.7" stroke-linejoin="miter" stroke-miterlimit="2"/>
<path d="M60.90 199.45 L60.90 162.00 L61.52 162.16 L61.99 162.16 L62.49 162.16 L63.01 162.16 L63.50 174.59 L64.02 174.59 L64.49 151.15 L64.99 151.15 L65.49 174.59 L65.98 174.59 L66.50 174.59 L67.01 174.59 L67.48 174.59 L68.00 174.59 L68.49 162.16 L69.02 162.16 L69.52 168.38 L69.98 168.38 L70.51 168.38 L71.00 174.59 L71.51 174.59 L71.98 174.59 L72.48 174.59 L73.01 174.59 L73.49 174.59 L74.01 174.59 L74.50 174.59 L74.98 162.16 L75.52 162.16 L75.98 162.16 L76.48 162.16 L77.00 168.38 L77.50 168.38 L78.02 168.38 L78.48 168.38 L79.00 168.38 L79.50 168.38 L79.99 168.38 L80.52 168.38 L81.02 168.38 L81.48 168.38 L82.00 162.16 L82.48 162.16 L82.98 174.59 L83.51 174.59 L83.99 174.59 L84.49 168.38 L84.98 168.38 L85.51 168.38 L85.98 168.38 L86.48 168.38 L87.02 162.16 L87.50 168.38 L88.02 168.38 L88.48 174.59 L88.98 162.16 L89.49 162.16 L89.99 168.38 L90.51 168.38 L91.01 174.59 L91.52 174.59 L92.01 162.16 L92.51 162.16 L92.98 162.16 L93.51 162.16 L93.99 162.16 L94.52 162.16 L95.00 162.16 L95.50 174.59 L96.02 174.59 L96.50 162.16 L96.99 162.16 L97.49 162.16 L97.98 162.16 L98.52 162.16 L99.00 162.16 L99.50 162.16 L99.99 162.16 L100.51 174.59 L101.00 174.59 L101.49 168.38 L101.98 168.38 L102.51 168.38 L103.02 162.16 L103.52 162.16 L104.00 168.38 L104.35 174.59 L104.69 168.38 L105.07 174.59 L105.41 168.38 L105.76 162.16 L106.11 162.16 L106.43 180.81 L106.81 180.81 L107.15 174.59 L107.48 168.38 L107.84 174.59 L108.20 168.38 L108.53 174.59 L108.89 143.85 L109.26 174.59 L109.59 168.38 L109.94 174.59 L110.31 168.38 L110.67 168.38 L110.99 162.16 L110.99 168.38 L111.47 174.59 L111.91 168.38 L112.37 174.59 L112.79 168.38 L113.26 162.16 L113.68 168.38 L114.15 174.59 L114.60 168.38 L115.03 162.16 L115.50 168.38 L115.94 162.16 L116.39 168.38 L116.83 174.59 L117.32 168.38 L117.74 174.59 L118.18 162.16 L118.64 174.59 L119.08 168.38 L119.56 174.59 L119.99 168.38 L120.45 174.59 L120.89 168.38 L121.36 174.59 L121.82 168.38 L122.27 162.16 L122.71 168.38 L123.16 174.59 L123.60 168.38 L124.07 162.16 L124.51 168.38 L124.93 174.59 L125.42 168.38 L125.83 174.59 L126.30 168.38 L126.77 174.59 L127.19 168.38 L127.65 174.59 L128.11 168.38 L128.53 174.59 L128.98 168.38 L129.43 174.59 L129.89 168.38 L130.34 174.59 L130.81 168.38 L131.24 174.59 L131.68 168.38 L132.14 174.59 L132.62 168.38 L133.05 174.59 L133.51 168.38 L133.96 174.59 L134.40 168.38 L134.85 174.59 L135.29 168.38 L135.73 174.59 L136.19 168.38 L136.64 162.16 L137.11 168.38 L137.55 174.59 L138.00 168.38 L138.46 156.35 L138.92 168.38 L139.36 174.59 L139.80 168.38 L140.27 174.59 L140.72 168.38 L141.17 174.59 L141.59 168.38 L142.06 174.59 L142.52 180.81 L142.93 180.81 L143.41 168.38 L143.86 174.59 L144.31 168.38 L144.75 174.59 L145.19 168.38 L145.67 174.59 L146.12 168.38 L146.53 156.35 L146.98 162.16 L147.44 174.59 L147.89 168.38 L148.37 174.59 L148.82 162.16 L149.25 180.81 L149.70 168.38 L150.14 162.16 L150.60 168.38 L151.05 174.59 L151.52 162.16 L151.95 174.59 L152.39 168.38 L152.84 168.38 L153.30 162.16 L153.76 168.38 L154.19 162.16 L154.67 174.59 L155.10 168.38 L155.54 174.59 L156.02 168.38 L156.45 162.16 L156.90 168.38 L157.37 174.59 L157.79 168.38 L158.25 162.16 L158.70 168.38 L159.15 174.59 L159.59 168.38 L160.05 174.59 L160.48 168.38 L160.95 174.59 L161.42 168.38 L161.84 162.16 L162.31 168.38 L162.73 174.59 L163.20 168.38 L163.65 162.16 L164.00 168.38 L164.21 174.59 L164.40 168.38 L164.60 174.59 L164.81 168.38 L165.01 174.59 L165.19 168.38 L165.40 174.59 L165.60 168.38 L165.79 174.59 L166.01 168.38 L166.21 174.59 L166.40 168.38 L166.60 174.59 L166.81 168.38 L166.99 174.59 L167.20 168.38 L167.40 174.59 L167.61 168.38 L167.80 174.59 L168.00 168.38 L168.20 174.59 L168.40 168.38 L168.60 174.59 L168.81 168.38 L169.01 174.59 L169.21 162.16 L169.41 174.59 L169.60 168.38 L169.80 174.59 L169.99 168.38 L170.21 174.59 L170.41 162.16 L170.59 174.59 L170.80 168.38 L170.99 174.59 L171.20 168.38 L171.41 174.59 L171.60 168.38 L171.79 174.59 L172.00 168.38 L172.21 174.59 L172.41 168.38 L172.61 174.59 L172.80 168.38 L172.99 174.59 L173.20 168.38 L173.41 174.59 L173.59 180.81 L173.79 174.59 L174.00 180.81 L174.21 174.59 L174.40 180.81 L174.60 174.59 L174.79 180.81 L174.99 174.59 L175.20 180.81 L175.40 174.59 L175.60 180.81 L175.81 174.59 L176.01 168.38 L176.20 174.59 L176.40 168.38 L176.61 174.59 L176.81 162.16 L176.99 174.59 L177.21 168.38 L177.41 174.59 L177.61 168.38 L177.81 174.59 L177.99 168.38 L178.21 174.59 L178.40 168.38 L178.60 174.59 L178.81 168.38 L179.01 174.59 L179.19 168.38 L179.39 174.59 L179.60 168.38 L179.79 174.59 L180.00 168.38 L180.19 180.81 L180.39 180.81 L180.60 174.59 L180.80 168.38 L181.00 174.59 L181.21 168.38 L181.40 174.59 L181.61 168.38 L181.79 174.59 L182.00 162.16 L182.21 174.59 L182.40 180.81 L182.61 180.81 L182.79 180.81 L183.01 174.59 L183.19 168.38 L183.40 174.59 L183.59 168.38 L183.81 174.59 L184.01 168.38 L184.20 174.59 L184.40 168.38 L184.61 174.59 L184.80 168.38 L185.01 174.59 L185.20 168.38 L185.39 174.59 L185.61 168.38 L185.80 174.59 L186.00 168.38 L186.19 174.59 L186.40 168.38 L186.60 174.59 L186.80 168.38 L187.00 174.59 L187.21 168.38 L187.40 174.59 L187.60 168.38 L187.79 174.59 L188.00 168.38 L188.19 174.59 L188.41 168.38 L188.60 174.59 L188.80 168.38 L189.01 174.59 L189.19 168.38 L189.41 174.59 L189.60 168.38 L189.80 174.59 L190.01 168.38 L190.20 174.59 L190.40 168.38 L190.60 174.59 L190.81 168.38 L190.99 174.59 L191.20 168.38 L191.41 174.59 L191.60 180.81 L191.80 174.59 L192.00 180.81 L192.19 174.59 L192.41 180.81 L192.60 174.59 L192.80 180.81 L193.01 174.59 L193.21 168.38 L193.40 174.59 L193.60 168.38 L193.81 174.59 L194.01 168.38 L194.20 174.59 L194.40 168.38 L194.60 174.59 L194.79 168.38 L195.01 174.59 L195.21 168.38 L195.40 174.59 L195.60 168.38 L195.81 174.59 L195.99 168.38 L196.21 174.59 L196.40 168.38 L196.59 174.59 L196.81 168.38 L197.01 174.59 L197.20 168.38 L197.39 174.59 L197.61 168.38 L197.81 174.59 L198.00 168.38 L198.21 174.59 L198.39 168.38 L198.61 174.59 L198.79 168.38 L199.00 174.59 L199.21 168.38 L199.41 180.81 L199.60 180.81 L199.80 174.59 L200.01 168.38 L200.20 174.59 L200.41 168.38 L200.60 174.59 L200.80 168.38 L200.99 174.59 L201.21 168.38 L201.39 174.59 L201.60 168.38 L201.80 174.59 L201.99 168.38 L202.19 174.59 L202.40 168.38 L202.59 174.59 L202.79 168.38 L203.01 174.59 L203.19 168.38 L203.40 174.59 L203.61 180.81 L203.80 174.59 L204.00 180.81 L204.21 174.59 L204.39 180.81 L204.59 174.59 L204.80 180.81 L205.01 174.59 L205.19 180.81 L205.40 174.59 L205.60 180.81 L205.80 174.59 L206.00 180.81 L206.19 174.59 L206.39 180.81 L206.60 174.59 L206.80 180.81 L207.00 174.59 L207.19 168.38 L207.39 174.59 L207.61 168.38 L207.81 174.59 L208.01 168.38 L208.20 174.59 L208.40 168.38 L208.60 174.59 L208.81 168.38 L209.00 174.59 L209.21 168.38 L209.41 180.81 L209.59 180.81 L209.80 174.59 L210.00 180.81 L210.20 174.59 L210.41 180.81 L210.61 174.59 L210.79 180.81 L211.01 174.59 L211.19 180.81 L211.39 174.59 L211.60 180.81 L211.80 174.59 L212.00 180.81 L212.20 174.59 L212.41 180.81 L212.60 174.59 L212.80 180.81 L213.00 174.59 L213.19 168.38 L213.40 174.59 L213.60 168.38 L213.80 174.59 L214.00 168.38 L214.20 174.59 L214.41 168.38 L214.59 174.59 L214.81 168.38 L214.99 174.59 L215.21 168.38 L215.40 174.59 L215.60 168.38 L215.79 174.59 L216.00 168.38 L216.21 174.59 L216.40 168.38 L216.61 174.59 L216.81 168.38 L217.00 174.59 L217.19 168.38 L217.40 174.59 L217.60 168.38 L217.81 174.59 L218.00 168.38 L218.20 174.59 L218.40 168.38 L218.60 174.59 L218.80 168.38 L219.01 174.59 L219.19 180.81 L219.40 162.16 L219.60 168.38 L219.80 174.59 L220.01 168.38 L220.20 174.59 L220.41 168.38 L220.59 174.59 L220.81 168.38 L221.00 174.59 L221.20 168.38 L221.41 174.59 L221.60 168.38 L221.79 174.59 L221.99 168.38 L222.20 174.59 L222.41 168.38 L222.60 174.59 L222.80 168.38 L223.00 174.59 L223.21 168.38 L223.41 174.59 L223.61 168.38 L223.80 174.59 L223.99 168.38 L224.20 174.59 L224.39 168.38 L224.59 174.59 L224.80 168.38 L225.00 174.59 L225.20 168.38 L225.41 174.59 L225.59 168.38 L225.80 174.59 L225.99 168.38 L226.21 174.59 L226.40 168.38 L226.60 174.59 L226.80 168.38 L226.99 174.59 L227.19 168.38 L227.40 174.59 L227.59 168.38 L227.80 174.59 L228.01 168.38 L228.21 174.59 L228.41 168.38 L228.59 174.59 L228.79 168.38 L229.00 174.59 L229.20 168.38 L229.41 174.59 L229.61 168.38 L229.79 174.59 L230.01 168.38 L230.21 174.59 L230.40 168.38 L230.59 174.59 L230.80 180.81 L231.00 180.81 L231.19 168.38 L231.41 174.59 L231.61 168.38 L231.81 174.59 L232.00 168.38 L232.19 174.59 L232.40 168.38 L232.60 174.59 L232.81 168.38 L233.00 174.59 L233.19 168.38 L233.41 174.59 L233.60 168.38 L233.80 174.59 L234.01 168.38 L234.20 174.59 L234.39 168.38 L234.59 174.59 L234.79 168.38 L235.00 174.59 L235.21 168.38 L235.41 174.59 L235.59 168.38 L235.80 174.59 L236.00 168.38 L236.19 174.59 L236.41 168.38 L236.59 174.59 L236.81 168.38 L237.00 174.59 L237.21 168.38 L237.40 174.59 L237.60 168.38 L237.80 174.59 L238.01 168.38 L238.20 174.59 L238.40 168.38 L238.61 174.59 L238.80 168.38 L238.99 180.81 L239.21 180.81 L239.40 162.16 L239.61 168.38 L239.80 174.59 L240.00 180.81 L240.20 174.59 L240.40 180.81 L240.60 174.59 L240.80 180.81 L241.01 174.59 L241.21 180.81 L241.40 174.59 L241.60 180.81 L241.79 174.59 L242.00 180.81 L242.20 174.59 L242.40 180.81 L242.60 174.59 L242.80 168.38 L243.01 174.59 L243.20 168.38 L243.40 174.59 L243.59 168.38 L243.79 174.59 L243.99 168.38 L244.20 174.59 L244.41 168.38 L244.61 174.59 L244.80 168.38 L245.00 174.59 L245.21 168.38 L245.39 174.59 L245.60 168.38 L245.79 174.59 L246.01 180.81 L246.20 174.59 L246.41 180.81 L246.59 174.59 L246.80 180.81 L247.00 174.59 L247.21 180.81 L247.41 174.59 L247.59 180.81 L247.80 174.59 L247.99 180.81 L247.99 174.59 L248.59 174.59 L249.22 174.59 L249.79 180.81 L250.38 180.81 L251.02 168.38 L251.57 168.38 L252.18 168.38 L252.82 168.38 L253.42 168.38 L254.02 168.38 L254.60 168.38 L255.19 174.59 L255.79 174.59 L256.38 168.38 L257.01 168.38 L257.62 180.81 L258.18 180.81 L258.79 168.38 L259.41 174.59 L259.98 174.59 L260.59 174.59 L261.19 174.59 L261.78 174.59 L262.41 174.59 L263.01 168.38 L263.63 168.38 L264.19 168.38 L264.82 168.38 L265.41 168.38 L265.97 174.59 L266.62 174.59 L267.20 168.38 L267.82 168.38 L267.98 168.38 L268.48 174.59 L268.98 168.38 L269.48 174.59 L270.01 168.38 L270.52 174.59 L270.98 168.38 L271.52 174.59 L271.98 180.81 L272.48 180.81 L273.01 180.81 L273.52 174.59 L274.01 168.38 L274.50 180.81 L275.00 180.81 L275.51 174.59 L275.98 168.38 L276.48 174.59 L277.00 168.38 L277.51 174.59 L277.98 168.38 L278.51 174.59 L279.01 168.38 L279.49 174.59 L280.02 180.81 L280.50 174.59 L280.98 180.81 L281.52 174.59 L282.00 180.81 L282.49 174.59 L282.98 168.38 L283.48 174.59 L283.98 168.38 L284.52 174.59 L284.99 168.38 L285.50 168.38 L285.99 162.16 L286.48 168.38 L287.01 180.81 L287.48 174.59 L288.01 180.81 L288.52 174.59 L288.99 180.81 L289.52 174.59 L289.99 168.38 L290.48 174.59 L291.00 168.38 L291.52 180.81 L292.01 168.38 L292.51 174.59 L292.99 162.16 L293.48 174.59 L294.00 168.38 L294.50 174.59 L295.00 168.38 L295.51 174.59 L296.00 168.38 L296.49 174.59 L297.00 168.38 L297.48 174.59 L297.99 168.38 L298.50 174.59 L299.01 168.38 L299.59 155.55 L300.19 162.16 L300.78 168.38 L301.41 168.38 L301.99 168.38 L302.62 168.38 L303.19 174.59 L303.83 174.59 L304.38 168.38 L304.99 168.38 L305.58 180.81 L306.22 180.81 L306.82 174.59 L307.40 174.59 L307.99 174.59 L308.59 174.59 L309.20 174.59 L309.79 168.38 L310.41 168.38 L310.98 168.38 L311.62 168.38 L312.17 168.38 L312.79 168.38 L313.38 168.38 L313.98 174.59 L314.59 174.59 L315.21 174.59 L315.82 168.38 L316.39 168.38 L317.00 168.38 L317.61 168.38 L318.23 174.59 L318.79 174.59 L319.38 162.16 L319.99 162.16 L320.62 168.38 L321.18 168.38 L321.80 168.38 L322.43 174.59 L323.01 168.38 L323.19 174.59 L323.40 168.38 L323.61 174.59 L323.79 168.38 L324.00 174.59 L324.19 168.38 L324.39 174.59 L324.61 168.38 L324.80 174.59 L324.99 168.38 L325.21 174.59 L325.41 180.81 L325.60 174.59 L325.80 180.81 L325.99 174.59 L326.20 180.81 L326.40 174.59 L326.61 168.38 L326.80 180.81 L326.99 180.81 L327.20 174.59 L327.40 168.38 L327.60 180.81 L327.79 180.81 L328.00 180.81 L328.20 168.38 L328.39 174.59 L328.60 168.38 L328.81 174.59 L328.99 168.38 L329.19 174.59 L329.40 168.38 L329.59 174.59 L329.80 168.38 L330.01 180.81 L330.19 180.81 L330.39 180.81 L330.60 180.81 L330.79 174.59 L331.00 168.38 L331.21 174.59 L331.39 180.81 L331.59 174.59 L331.81 168.38 L332.01 174.59 L332.20 168.38 L332.39 174.59 L332.60 168.38 L332.80 174.59 L332.99 168.38 L333.20 174.59 L333.40 168.38 L333.59 174.59 L333.80 168.38 L334.01 174.59 L334.21 168.38 L334.39 180.81 L334.60 180.81 L334.80 180.81 L335.01 168.38 L335.20 174.59 L335.39 168.38 L335.60 174.59 L335.80 168.38 L336.00 174.59 L336.20 168.38 L336.40 174.59 L336.60 168.38 L336.80 174.59 L337.00 168.38 L337.20 174.59 L337.40 168.38 L337.60 174.59 L337.79 168.38 L338.00 174.59 L338.19 180.81 L338.41 180.81 L338.60 168.38 L338.79 174.59 L339.00 168.38 L339.20 174.59 L339.40 168.38 L339.59 174.59 L339.81 162.16 L340.00 174.59 L340.21 168.38 L340.41 174.59 L340.60 180.81 L340.80 180.81 L340.99 168.38 L341.19 174.59 L341.39 168.38 L341.60 174.59 L341.80 168.38 L341.99 174.59 L342.21 168.38 L342.39 174.59 L342.59 168.38 L342.81 174.59 L343.01 168.38 L343.20 174.59 L343.40 168.38 L343.59 174.59 L343.80 168.38 L343.99 174.59 L344.20 180.81 L344.41 174.59 L344.60 168.38 L344.80 174.59 L345.00 168.38 L345.20 174.59 L345.39 168.38 L345.59 174.59 L345.81 180.81 L345.99 180.81 L346.20 168.38 L346.40 174.59 L346.60 168.38 L346.80 174.59 L347.00 168.38 L347.20 174.59 L347.40 168.38 L347.59 174.59 L347.79 180.81 L348.01 180.81 L348.19 180.81 L348.40 174.59 L348.60 168.38 L348.80 156.35 L348.99 180.81 L349.19 174.59 L349.39 168.38 L349.60 174.59 L349.81 168.38 L350.00 174.59 L350.20 168.38 L350.40 174.59 L350.60 168.38 L350.80 174.59 L351.00 168.38 L351.21 174.59 L351.40 168.38 L351.60 174.59 L351.81 168.38 L352.01 174.59 L352.21 168.38 L352.39 174.59 L352.61 168.38 L352.80 174.59 L353.01 168.38 L353.21 174.59 L353.40 168.38 L353.60 174.59 L353.80 168.38 L354.00 174.59 L354.20 168.38 L354.40 174.59 L354.61 168.38 L354.79 174.59 L355.00 168.38 L355.21 174.59 L355.41 168.38 L355.61 174.59 L355.80 168.38 L356.01 174.59 L356.20 168.38 L356.41 174.59 L356.60 168.38 L356.80 174.59 L357.00 168.38 L357.20 174.59 L357.40 180.81 L357.59 180.81 L357.79 168.38 L357.99 174.59 L358.20 168.38 L358.40 174.59 L358.60 168.38 L358.81 174.59 L359.00 180.81 L359.19 180.81 L359.40 168.38 L359.59 174.59 L359.80 168.38 L359.99 174.59 L360.21 168.38 L360.40 174.59 L360.60 168.38 L360.80 174.59 L361.01 168.38 L361.20 174.59 L361.40 168.38 L361.60 174.59 L361.80 168.38 L362.00 174.59 L362.20 180.81 L362.40 180.81 L362.60 180.81 L362.79 174.59 L363.00 168.38 L363.20 174.59 L363.39 168.38 L363.61 162.16 L363.80 168.38 L364.00 174.59 L364.19 180.81 L364.39 180.81 L364.61 168.38 L364.79 174.59 L365.00 168.38 L365.20 174.59 L365.39 168.38 L365.61 174.59 L365.79 168.38 L366.01 174.59 L366.20 168.38 L366.40 174.59 L366.60 168.38 L366.80 174.59 L366.99 168.38 L367.20 174.59 L367.40 168.38 L367.60 174.59 L367.81 168.38 L368.01 174.59 L368.20 168.38 L368.39 174.59 L368.59 168.38 L368.80 174.59 L369.00 168.38 L369.20 174.59 L369.40 168.38 L369.60 174.59 L369.79 168.38 L370.00 174.59 L370.20 168.38 L370.40 174.59 L370.61 168.38 L370.79 174.59 L370.99 168.38 L371.19 174.59 L371.41 180.81 L371.60 174.59 L371.80 180.81 L371.99 180.81 L372.21 180.81 L372.39 174.59 L372.61 168.38 L372.81 174.59 L373.00 168.38 L373.19 174.59 L373.41 168.38 L373.61 174.59 L373.79 168.38 L373.99 174.59 L374.20 168.38 L374.39 174.59 L374.60 168.38 L374.80 174.59 L375.00 168.38 L375.20 180.81 L375.39 180.81 L375.60 180.81 L375.79 168.38 L376.01 174.59 L376.20 168.38 L376.40 174.59 L376.60 168.38 L376.81 174.59 L377.00 168.38 L377.20 174.59 L377.40 168.38 L377.61 174.59 L377.79 168.38 L378.00 174.59 L378.19 168.38 L378.41 174.59 L378.60 168.38 L378.79 174.59 L379.00 168.38 L379.20 174.59 L379.39 180.81 L379.60 174.59 L379.79 168.38 L380.01 174.59 L380.20 168.38 L380.41 174.59 L380.61 168.38 L380.79 174.59 L381.00 168.38 L381.20 174.59 L381.39 168.38 L381.61 174.59 L381.80 162.16 L382.01 174.59 L382.20 168.38 L382.40 174.59 L382.61 168.38 L382.81 174.59 L383.00 168.38 L383.20 174.59 L383.39 168.38 L383.59 174.59 L383.81 168.38 L384.00 174.59 L384.21 168.38 L384.40 174.59 L384.60 168.38 L384.80 174.59 L385.00 168.38 L385.21 174.59 L385.41 168.38 L385.60 174.59 L385.81 168.38 L385.99 174.59 L386.21 168.38 L386.40 174.59 L386.59 168.38 L386.80 174.59 L387.00 168.38 L387.20 174.59 L387.41 168.38 L387.60 174.59 L387.80 168.38 L388.00 174.59 L388.19 168.38 L388.41 174.59 L388.60 180.81 L388.80 174.59 L389.00 168.38 L389.21 174.59 L389.40 168.38 L389.59 174.59 L389.80 168.38 L390.00 174.59 L390.21 168.38 L390.41 174.59 L390.61 162.16 L390.80 174.59 L391.00 168.38 L391.20 174.59 L391.39 168.38 L391.60 174.59 L391.81 168.38 L392.00 174.59 L392.19 168.38 L392.39 174.59 L392.60 168.38 L392.81 174.59 L392.99 180.81 L393.20 174.59 L393.39 180.81 L393.60 174.59 L393.79 180.81 L394.01 174.59 L394.20 180.81 L394.40 174.59 L394.59 180.81 L394.79 174.59 L395.01 180.81 L395.20 174.59 L395.39 180.81 L395.59 180.81 L395.79 180.81 L395.99 174.59 L396.20 168.38 L396.41 174.59 L396.60 180.81 L396.80 174.59 L397.01 168.38 L397.20 174.59 L397.40 168.38 L397.59 174.59 L397.80 168.38 L398.00 180.81 L398.20 180.81 L398.40 180.81 L398.60 168.38 L398.81 174.59 L399.00 168.38 L399.20 174.59 L399.39 168.38 L399.60 174.59 L399.80 168.38 L400.00 174.59 L400.20 168.38 L400.41 174.59 L400.60 168.38 L400.80 174.59 L401.01 168.38 L401.20 174.59 L401.41 168.38 L401.59 174.59 L401.79 168.38 L402.00 174.59 L402.21 168.38 L402.39 174.59 L402.60 168.38 L402.81 174.59 L403.00 168.38 L403.20 174.59 L403.40 168.38 L403.60 174.59 L403.81 168.38 L403.99 174.59 L404.19 168.38 L404.39 174.59 L404.61 168.38 L404.79 174.59 L404.99 168.38 L405.21 180.81 L405.40 180.81 L405.60 174.59 L405.80 168.38 L406.01 174.59 L406.20 168.38 L406.39 180.81 L406.61 180.81 L406.80 180.81 L407.00 180.81 L407.19 180.81 L407.39 180.81 L407.61 174.59 L407.79 168.38 L408.00 174.59 L408.21 168.38 L408.40 174.59 L408.61 168.38 L408.80 174.59 L409.01 168.38 L409.21 174.59 L409.41 168.38 L409.60 174.59 L409.80 168.38 L410.00 174.59 L410.20 180.81 L410.39 180.81 L410.60 168.38 L410.79 174.59 L411.01 168.38 L411.20 174.59 L411.39 168.38 L411.59 174.59 L411.80 168.38 L412.00 180.81 L412.19 180.81 L412.40 174.59 L412.60 168.38 L412.81 162.16 L412.99 180.81 L413.19 180.81 L413.40 168.38 L413.60 174.59 L413.80 168.38 L414.01 174.59 L414.21 168.38 L414.41 174.59 L414.61 168.38 L414.80 174.59 L415.01 168.38 L415.20 174.59 L415.40 180.81 L415.61 180.81 L415.80 180.81 L415.99 174.59 L416.19 168.38 L416.40 174.59 L416.60 168.38 L416.81 174.59 L416.99 168.38 L417.19 174.59 L417.39 168.38 L417.60 174.59 L417.80 168.38 L417.99 174.59 L418.21 168.38 L418.39 174.59 L418.59 180.81 L418.80 180.81 L419.01 180.81 L419.21 180.81 L419.39 180.81 L419.60 174.59 L419.81 168.38 L420.00 174.59 L420.20 168.38 L420.40 174.59 L420.60 168.38 L420.81 174.59 L421.00 180.81 L421.19 174.59 L421.39 168.38 L421.61 174.59 L421.81 168.38 L422.00 174.59 L422.21 168.38 L422.41 174.59 L422.61 168.38 L422.79 180.81 L422.99 180.81 L423.20 174.59 L423.41 168.38 L423.60 174.59 L423.81 168.38 L424.01 174.59 L424.21 168.38 L424.40 174.59 L424.59 156.35 L424.79 156.35 L425.00 168.38 L425.20 180.81 L425.41 180.81 L425.59 180.81 L425.81 180.81 L426.00 174.59 L426.20 168.38 L426.40 174.59 L426.61 168.38 L426.80 174.59 L427.00 168.38 L427.19 174.59 L427.41 168.38 L427.60 174.59 L427.80 168.38 L427.99 174.59 L428.19 168.38 L428.40 174.59 L428.60 168.38 L428.80 180.81 L429.00 180.81 L429.19 180.81 L429.40 168.38 L429.61 174.59 L429.79 168.38 L430.01 174.59 L430.20 162.16 L430.41 174.59 L430.61 168.38 L430.80 174.59 L431.00 168.38 L431.20 174.59 L431.41 168.38 L431.59 174.59 L431.81 168.38 L431.99 174.59 L432.20 168.38 L432.41 174.59 L432.59 168.38 L432.80 174.59 L433.01 168.38 L433.19 174.59 L433.40 168.38 L433.60 174.59 L433.80 168.38 L434.01 174.59 L434.20 168.38 L434.39 174.59 L434.61 168.38 L434.81 174.59 L434.99 168.38 L435.20 174.59 L435.40 168.38 L435.60 174.59 L435.80 168.38 L436.00 174.59 L436.20 168.38 L436.41 174.59 L436.59 168.38 L436.81 174.59 L437.00 168.38 L437.20 174.59 L437.39 168.38 L437.61 174.59 L437.79 168.38 L438.01 174.59 L438.19 168.38 L438.41 174.59 L438.61 168.38 L438.81 174.59 L439.00 168.38 L439.20 174.59 L439.40 168.38 L439.60 174.59 L439.80 168.38 L439.99 174.59 L440.19 168.38 L440.40 174.59 L440.60 168.38 L440.80 174.59 L441.01 168.38 L441.21 174.59 L441.40 168.38 L441.60 174.59 L441.81 162.16 L442.01 174.59 L442.20 168.38 L442.40 174.59 L442.60 168.38 L442.80 174.59 L442.99 168.38 L443.20 174.59 L443.39 168.38 L443.60 174.59 L443.80 180.81 L444.00 180.81 L444.20 168.38 L444.41 174.59 L444.61 168.38 L444.80 174.59 L444.99 168.38 L445.20 174.59 L445.39 168.38 L445.59 174.59 L445.79 168.38 L446.00 174.59 L446.20 168.38 L446.40 174.59 L446.60 168.38 L446.80 174.59 L446.99 168.38 L447.20 174.59 L447.40 168.38 L447.59 174.59 L447.80 168.38 L448.00 174.59 L448.21 168.38 L448.41 174.59 L448.60 180.81 L448.80 180.81 L449.00 168.38 L449.19 174.59 L449.40 168.38 L449.59 174.59 L449.80 168.38 L450.01 174.59 L449.98 174.59 L450.50 174.59 L451.00 174.59 L451.50 174.59 L452.01 180.81 L452.51 180.81 L453.02 162.16 L453.50 180.81 L453.99 180.81 L454.51 180.81 L455.01 180.81 L455.48 168.38 L455.98 168.38 L456.51 168.38 L456.98 162.16 L457.50 162.16 L457.99 174.59 L458.50 168.38 L458.98 168.38 L459.48 168.38 L460.00 174.59 L460.52 180.81 L460.99 180.81 L461.48 174.59 L462.02 174.59 L462.51 168.38 L463.00 168.38 L463.48 168.38 L464.00 168.38 L464.52 168.38 L464.98 162.16 L465.52 162.16 L465.99 162.16 L466.49 162.16 L466.99 168.38 L467.51 168.38 L467.99 174.59 L468.48 168.38 L469.00 168.38 L469.51 180.81 L470.02 168.38 L470.48 168.38 L471.01 168.38 L471.49 168.38 L471.98 174.59 L472.48 174.59 L473.00 174.59 L473.49 174.59 L473.99 174.59 L474.50 174.59 L475.00 174.59 L475.50 174.59 L476.02 174.59 L476.50 174.59 L477.02 174.59 L477.49 168.38 L477.98 174.59 L478.50 174.59 L479.00 174.59 L479.48 174.59 L479.98 168.38 L480.51 168.38 L481.02 168.38 L481.51 174.59 L481.99 174.59 L482.49 174.59 L482.99 174.59 L483.49 168.38 L483.98 168.38 L484.50 180.81 L484.98 168.38 L485.52 168.38 L486.01 174.59 L486.49 174.59 L487.00 168.38 L487.50 168.38 L487.99 174.59 L488.49 174.59 L488.98 174.59 L489.50 174.59 L490.00 168.38 L490.50 168.38 L491.01 168.38 L491.48 168.38 L491.99 168.38 L492.49 168.38 L492.99 168.38 L493.49 168.38 L494.02 174.59 L494.51 174.59 L494.99 174.59 L495.49 180.81 L495.98 180.81 L496.50 168.38 L496.99 168.38 L497.51 168.38 L497.99 174.59 L498.49 174.59 L499.02 168.38 L499.50 168.38 L500.01 168.38 L500.52 162.16 L501.01 162.16 L501.52 174.59 L502.00 162.35 L502.52 168.38 L503.02 168.38 L503.50 168.38 L503.99 168.38 L504.49 174.59 L505.01 174.59 L505.50 180.81" fill="none" stroke="#00f" stroke-width="1.7" stroke-dasharray="6.5 2.2 3 2.2" stroke-linejoin="miter" stroke-miterlimit="2"/>

<rect x="391.5" y="24.6" width="129.6" height="41.1" fill="#fff" stroke="#000" stroke-width="1.6"/><line x1="397" y1="36.3" x2="451" y2="36.3" stroke="#f00" stroke-width="1.7"/><line x1="397" y1="54.6" x2="451" y2="54.6" stroke="#00f" stroke-width="1.7" stroke-dasharray="6.5 2.2 3 2.2"/>
<g font-family="'Liberation Serif', serif" font-size="15" fill="#000" stroke="#000" stroke-width="0.1">
<text transform="translate(57.4 18.70) scale(0.97 1)" text-anchor="end">0.03</text><text transform="translate(57.4 49.77) scale(0.97 1)" text-anchor="end">0.025</text><text transform="translate(57.4 80.85) scale(0.97 1)" text-anchor="end">0.02</text><text transform="translate(57.4 111.93) scale(0.97 1)" text-anchor="end">0.015</text><text transform="translate(57.4 143.00) scale(0.97 1)" text-anchor="end">0.01</text><text transform="translate(57.4 174.07) scale(0.97 1)" text-anchor="end">0.005</text><text transform="translate(57.4 205.15) scale(0.97 1)" text-anchor="end">0</text><text transform="translate(57.4 236.22) scale(0.97 1)" text-anchor="end">-0.005</text><text transform="translate(57.4 267.30) scale(0.97 1)" text-anchor="end">-0.01</text><text transform="translate(60.90 277.6) scale(0.97 1)" text-anchor="middle">0</text><text transform="translate(128.66 277.6) scale(0.97 1)" text-anchor="middle">20</text><text transform="translate(196.41 277.6) scale(0.97 1)" text-anchor="middle">40</text><text transform="translate(264.17 277.6) scale(0.97 1)" text-anchor="middle">60</text><text transform="translate(331.93 277.6) scale(0.97 1)" text-anchor="middle">80</text><text transform="translate(399.69 277.6) scale(0.97 1)" text-anchor="middle">100</text><text transform="translate(467.44 277.6) scale(0.97 1)" text-anchor="middle">120</text><text transform="translate(535.20 277.6) scale(0.97 1)" text-anchor="middle">140</text><text transform="translate(298.4 294) scale(0.97 1)" text-anchor="middle">Length of trajectory (m)</text><text transform="translate(15.5 137.2) rotate(-90) scale(0.95 1)" text-anchor="middle">Computation time (s)</text><text transform="translate(455.3 41.8) scale(0.97 1)">Sequential</text><text transform="translate(455.3 59.6) scale(0.97 1)">Parallel</text>
</g>
</svg></div></body></html>
